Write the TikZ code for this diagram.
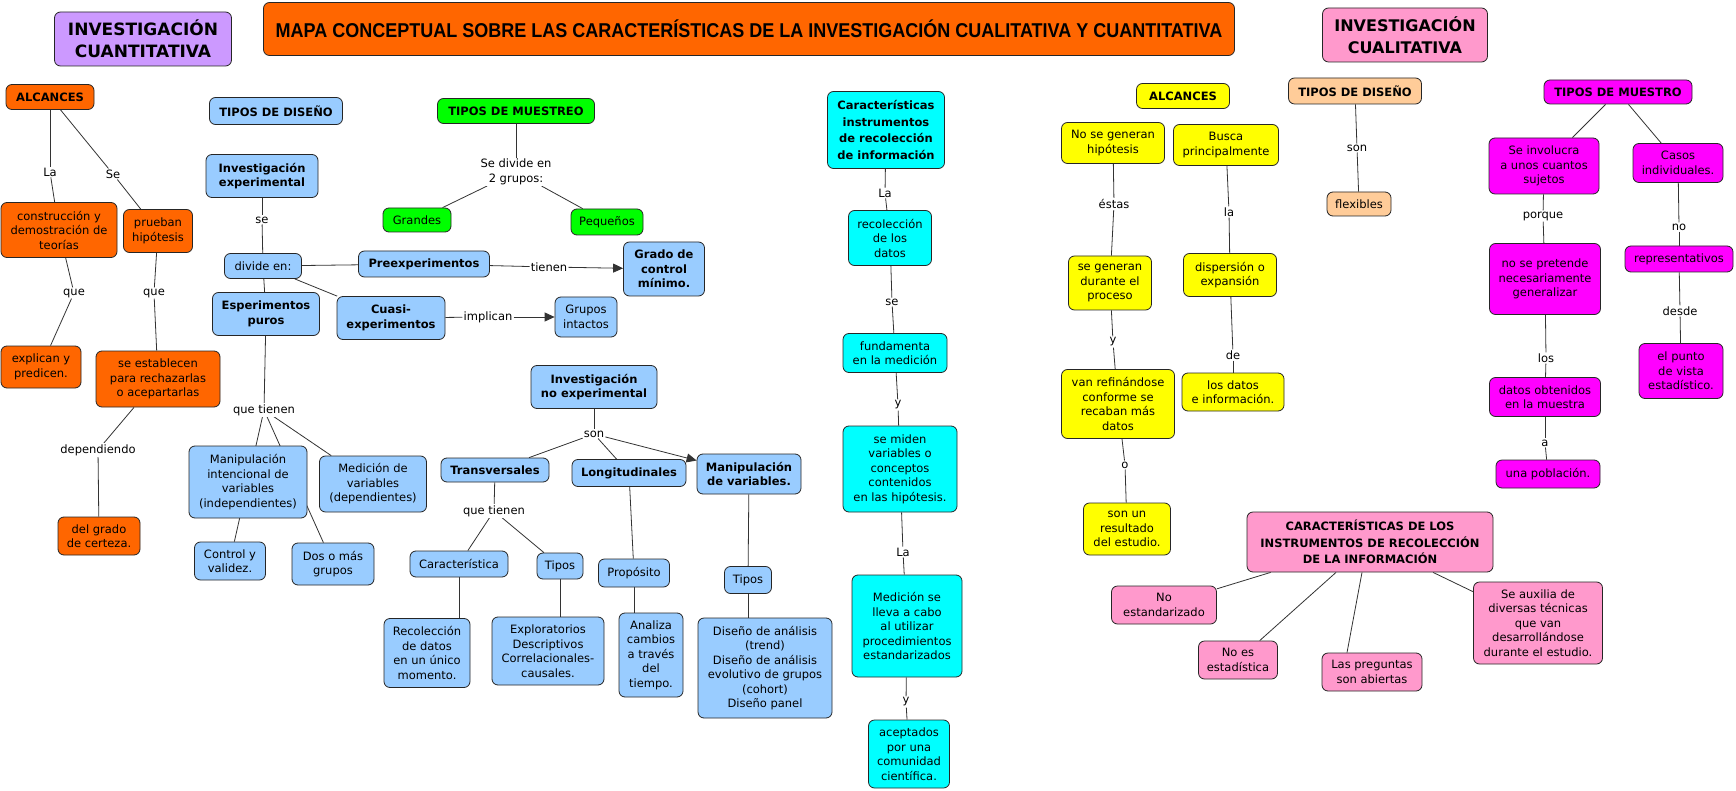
\documentclass[tikz,border=0pt]{standalone}
\usepackage{fontspec}
\usepackage{xcolor}
\usepackage{tikz}
\usetikzlibrary{arrows.meta, backgrounds}
\setmainfont{DejaVu Sans}
\newfontfamily\titlefont[FakeStretch=0.9]{Liberation Sans}
\definecolor{cmOrange}{HTML}{FF6600}
\definecolor{cmBlue}{HTML}{99CCFF}
\definecolor{cmGreen}{HTML}{00FF00}
\definecolor{cmCyan}{HTML}{00FFFF}
\definecolor{cmYellow}{HTML}{FFFF00}
\definecolor{cmPeach}{HTML}{FFCC99}
\definecolor{cmMagenta}{HTML}{FF00FF}
\definecolor{cmPink}{HTML}{FF99CC}
\definecolor{cmLilac}{HTML}{CC99FF}
\newcommand{\txtnorm}{\fontsize{11.5}{14.5}\selectfont}
\newcommand{\txthead}{\fontsize{11.5}{16.5}\selectfont\bfseries}
\newcommand{\txtbig}{\fontsize{17}{22}\selectfont\bfseries}

\begin{document}
\begin{tikzpicture}[x=1pt, y=-1pt,
  box/.style={draw=black!85, line width=0.8pt, rounded corners=6pt, align=center, inner sep=1pt, font=\txtnorm},
  headbox/.style={box, font=\txthead},
  boldbox/.style={box, font=\txtnorm\bfseries},
  linkword/.style={fill=white, inner sep=1pt, align=center, font=\txtnorm},
  link/.style={draw=black!80, line width=0.8pt},
  linkarrow/.style={link, -{Triangle[length=10pt, width=9pt]}}]
\useasboundingbox (0,0) rectangle (1736,791);
% Titles
\node[box, fill=cmLilac, font=\txtbig, minimum width=177, minimum height=54] (cuanti) at (143,39) {INVESTIGACIÓN\\CUANTITATIVA};
\node[box, fill=cmOrange, font=\titlefont\fontsize{20}{24}\selectfont\bfseries, minimum width=971, minimum height=53] (titulo) at (749,29) {MAPA CONCEPTUAL SOBRE LAS CARACTERÍSTICAS DE LA INVESTIGACIÓN CUALITATIVA Y CUANTITATIVA};
\node[box, fill=cmPink, font=\fontsize{16}{22}\selectfont\bfseries, minimum width=165, minimum height=54] (cuali) at (1405,35) {INVESTIGACIÓN\\CUALITATIVA};
% Cuantitativa: alcances
\node[headbox, fill=cmOrange, minimum width=88, minimum height=25] (alcQ) at (50,97) {ALCANCES};
\node[linkword] (lblLaA) at (50,172) {La};
\node[linkword] (lblSeA) at (113,174) {Se};
\node[box, fill=cmOrange, minimum width=116, minimum height=55] (teorias) at (59,230) {construcción y\\demostración de\\teorías};
\node[box, fill=cmOrange, minimum width=69, minimum height=43] (hipo) at (158,231) {prueban\\hipótesis};
\node[linkword] (lblQueA) at (74,293) {que};
\node[linkword] (lblQueB) at (154,293) {que};
\node[box, fill=cmOrange, minimum width=80, minimum height=42] (explican) at (41,367) {explican y\\predicen.};
\node[box, fill=cmOrange, minimum width=124, minimum height=56] (establecen) at (158,379) {se establecen\\para rechazarlas\\o acepartarlas};
\node[linkword] (lblDep) at (98,450) {dependiendo};
\node[box, fill=cmOrange, minimum width=82, minimum height=38] (certeza) at (99,536) {del grado\\de certeza.};
% Cuantitativa: tipos de diseño
\node[headbox, fill=cmBlue, minimum width=133, minimum height=27] (disenoQ) at (276,111) {TIPOS DE DISEÑO};
\node[boldbox, fill=cmBlue, minimum width=112, minimum height=43] (invExp) at (262,176) {Investigación\\experimental};
\node[linkword] (lblSeB) at (262,220) {se};
\node[box, fill=cmBlue, minimum width=77, minimum height=25] (divide) at (263,266) {divide en:};
\node[boldbox, fill=cmBlue, minimum width=131, minimum height=26] (preexp) at (424,264) {Preexperimentos};
\node[linkword] (lblTienen) at (549,267) {tienen};
\node[boldbox, fill=cmBlue, minimum width=81, minimum height=54] (gradoCtrl) at (664,269) {Grado de\\control\\mínimo.};
\node[boldbox, fill=cmBlue, minimum width=107, minimum height=43] (puros) at (266,314) {Esperimentos\\puros};
\node[boldbox, fill=cmBlue, minimum width=108, minimum height=43] (cuasi) at (391,318) {Cuasi-\\experimentos};
\node[linkword] (lblImplican) at (488,317) {implican};
\node[box, fill=cmBlue, minimum width=62, minimum height=40] (intactos) at (586,317) {Grupos\\intactos};
\node[linkword] (lblQueTienenA) at (264,410) {que tienen};
\node[box, fill=cmBlue, minimum width=118, minimum height=72] (manipInt) at (248,482) {Manipulación\\intencional de\\variables\\(independientes)};
\node[box, fill=cmBlue, minimum width=107, minimum height=56] (medicion) at (373,484) {Medición de\\variables\\(dependientes)};
\node[box, fill=cmBlue, minimum width=71, minimum height=38] (control) at (230,561) {Control y\\validez.};
\node[box, fill=cmBlue, minimum width=82, minimum height=42] (dosGrupos) at (333,564) {Dos o más\\grupos};
\node[boldbox, fill=cmBlue, minimum width=126, minimum height=43] (invNoExp) at (594,387) {Investigación\\no experimental};
\node[linkword] (lblSonA) at (594,434) {son};
\node[boldbox, fill=cmBlue, minimum width=108, minimum height=24] (transv) at (495,470) {Transversales};
\node[boldbox, fill=cmBlue, minimum width=114, minimum height=27] (longit) at (629,473) {Longitudinales};
\node[boldbox, fill=cmBlue, minimum width=104, minimum height=40] (manipVar) at (749,474) {Manipulación\\de variables.};
\node[linkword] (lblQueTienenB) at (494,511) {que tienen};
\node[box, fill=cmBlue, minimum width=98, minimum height=26] (caract) at (459,564) {Característica};
\node[box, fill=cmBlue, minimum width=46, minimum height=26] (tiposA) at (560,566) {Tipos};
\node[box, fill=cmBlue, minimum width=71, minimum height=28] (proposito) at (634,573) {Propósito};
\node[box, fill=cmBlue, minimum width=47, minimum height=27] (tiposB) at (748,580) {Tipos};
\node[box, fill=cmBlue, minimum width=86, minimum height=69] (unico) at (427,653) {Recolección\\de datos\\en un único\\momento.};
\node[box, fill=cmBlue, minimum width=112, minimum height=68] (explor) at (548,651) {Exploratorios\\Descriptivos\\Correlacionales-\\causales.};
\node[box, fill=cmBlue, minimum width=64, minimum height=84] (analiza) at (651,655) {Analiza\\cambios\\a través\\del\\tiempo.};
\node[box, fill=cmBlue, minimum width=134, minimum height=100] (disenoTipos) at (765,668) {Diseño de análisis\\(trend)\\Diseño de análisis\\evolutivo de grupos\\(cohort)\\Diseño panel};
% Cuantitativa: muestreo
\node[headbox, fill=cmGreen, minimum width=157, minimum height=25] (muestreoQ) at (516,111) {TIPOS DE MUESTREO};
\node[linkword] (lblDivide) at (516,172) {Se divide en\\2 grupos:};
\node[box, fill=cmGreen, minimum width=68, minimum height=24] (grandes) at (417,220) {Grandes};
\node[box, fill=cmGreen, minimum width=72, minimum height=26] (pequenos) at (607,222) {Pequeños};
% Cuantitativa: instrumentos
\node[headbox, fill=cmCyan, minimum width=117, minimum height=77] (instQ) at (886,130) {Características\\instrumentos\\de recolección\\de información};
\node[linkword] (lblLaB) at (885,193) {La};
\node[box, fill=cmCyan, minimum width=83, minimum height=55] (recol) at (890,238) {recolección\\de los\\datos};
\node[linkword] (lblSeC) at (892,302) {se};
\node[box, fill=cmCyan, minimum width=104, minimum height=39] (fundamenta) at (895,353) {fundamenta\\en la medición};
\node[linkword] (lblYA) at (898,405) {y};
\node[box, fill=cmCyan, minimum width=114, minimum height=86] (miden) at (900,469) {se miden\\variables o\\conceptos\\contenidos\\en las hipótesis.};
\node[linkword] (lblLaC) at (903,552) {La};
\node[box, fill=cmCyan, minimum width=110, minimum height=102] (medida) at (907,626) {Medición se\\lleva a cabo\\al utilizar\\procedimientos\\estandarizados};
\node[linkword] (lblYB) at (906,702) {y};
\node[box, fill=cmCyan, minimum width=81, minimum height=68] (aceptados) at (909,754) {aceptados\\por una\\comunidad\\científica.};
% Cualitativa: alcances
\node[headbox, fill=cmYellow, minimum width=93, minimum height=25] (alcC) at (1183,96) {ALCANCES};
\node[box, fill=cmYellow, minimum width=103, minimum height=41] (noGeneran) at (1113,143) {No se generan\\hipótesis};
\node[box, fill=cmYellow, minimum width=105, minimum height=41] (busca) at (1226,145) {Busca\\principalmente};
\node[linkword] (lblEstas) at (1114,204) {éstas};
\node[linkword] (lblLaD) at (1229,212) {la};
\node[box, fill=cmYellow, minimum width=83, minimum height=54] (seGeneran) at (1110,283) {se generan\\durante el\\proceso};
\node[box, fill=cmYellow, minimum width=93, minimum height=43] (dispersion) at (1230,275) {dispersión o\\expansión};
\node[linkword] (lblYC) at (1113,342) {y};
\node[linkword] (lblDe) at (1233,355) {de};
\node[box, fill=cmYellow, minimum width=113, minimum height=69] (refinan) at (1118,404) {van refinándose\\conforme se\\recaban más\\datos};
\node[box, fill=cmYellow, minimum width=102, minimum height=38] (losDatos) at (1233,392) {los datos\\e información.};
\node[linkword] (lblO) at (1125,465) {o};
\node[box, fill=cmYellow, minimum width=87, minimum height=52] (resultado) at (1127,529) {son un\\resultado\\del estudio.};
% Cualitativa: diseño
\node[headbox, fill=cmPeach, minimum width=133, minimum height=26] (disenoC) at (1355,91) {TIPOS DE DISEÑO};
\node[linkword] (lblSonB) at (1357,148) {son};
\node[box, fill=cmPeach, minimum width=64, minimum height=24] (flexibles) at (1359,204) {flexibles};
% Cualitativa: muestra
\node[headbox, fill=cmMagenta, minimum width=148, minimum height=24] (muestraC) at (1618,92) {TIPOS DE MUESTRO};
\node[box, fill=cmMagenta, minimum width=110, minimum height=56] (sujetos) at (1544,166) {Se involucra\\a unos cuantos\\sujetos};
\node[box, fill=cmMagenta, minimum width=90, minimum height=39] (casos) at (1678,163) {Casos\\individuales.};
\node[linkword] (lblPorque) at (1543,216) {porque};
\node[linkword] (lblNo) at (1679,227) {no};
\node[box, fill=cmMagenta, minimum width=111, minimum height=71] (generalizar) at (1545,279) {no se pretende\\necesariamente\\generalizar};
\node[box, fill=cmMagenta, minimum width=108, minimum height=26] (represent) at (1679,259) {representativos};
\node[linkword] (lblDesde) at (1680,311) {desde};
\node[box, fill=cmMagenta, minimum width=84, minimum height=55] (punto) at (1681,371) {el punto\\de vista\\estadístico.};
\node[linkword] (lblLos) at (1546,358) {los};
\node[box, fill=cmMagenta, minimum width=111, minimum height=39] (obtenidos) at (1545,397) {datos obtenidos\\en la muestra};
\node[linkword] (lblA) at (1545,443) {a};
\node[box, fill=cmMagenta, minimum width=104, minimum height=28] (poblacion) at (1548,474) {una población.};
% Cualitativa: instrumentos
\node[headbox, fill=cmPink, minimum width=246, minimum height=60] (instC) at (1370,542) {CARACTERÍSTICAS DE LOS\\INSTRUMENTOS DE RECOLECCIÓN\\DE LA INFORMACIÓN};
\node[box, fill=cmPink, minimum width=105, minimum height=38] (noEstand) at (1164,605) {No\\estandarizado};
\node[box, fill=cmPink, minimum width=79, minimum height=38] (noEstad) at (1238,660) {No es\\estadística};
\node[box, fill=cmPink, minimum width=100, minimum height=38] (preguntas) at (1372,672) {Las preguntas\\son abiertas};
\node[box, fill=cmPink, minimum width=129, minimum height=82] (auxilia) at (1538,623) {Se auxilia de\\diversas técnicas\\que van\\desarrollándose\\durante el estudio.};
% Links
\begin{scope}[on background layer]
\fill[white] (0,0) rectangle (1736,791);
\foreach \a/\b in {alcQ/lblLaA, lblLaA/teorias, alcQ/lblSeA, lblSeA/hipo, teorias/lblQueA, lblQueA/explican,
  hipo/lblQueB, lblQueB/establecen, establecen/lblDep, lblDep/certeza,
  invExp/lblSeB, lblSeB/divide, divide/preexp, divide/puros, divide/cuasi, preexp/lblTienen, cuasi/lblImplican,
  puros/lblQueTienenA, lblQueTienenA/control, lblQueTienenA/dosGrupos, lblQueTienenA/medicion,
  invNoExp/lblSonA, lblSonA/transv, lblSonA/longit, transv/lblQueTienenB, lblQueTienenB/caract, lblQueTienenB/tiposA,
  longit/proposito, manipVar/tiposB,
  muestreoQ/lblDivide, lblDivide/grandes, lblDivide/pequenos,
  instQ/lblLaB, lblLaB/recol, recol/lblSeC, lblSeC/fundamenta, fundamenta/lblYA, lblYA/miden,
  miden/lblLaC, lblLaC/medida, medida/lblYB, lblYB/aceptados,
  noGeneran/lblEstas, lblEstas/seGeneran, seGeneran/lblYC, lblYC/refinan, refinan/lblO, lblO/resultado,
  busca/lblLaD, lblLaD/dispersion, dispersion/lblDe, lblDe/losDatos, disenoC/lblSonB, lblSonB/flexibles,
  muestraC/sujetos, muestraC/casos, sujetos/lblPorque, lblPorque/generalizar, generalizar/lblLos, lblLos/obtenidos,
  obtenidos/lblA, lblA/poblacion, casos/lblNo, lblNo/represent, represent/lblDesde, lblDesde/punto,
  instC/noEstand, instC/noEstad, instC/auxilia}
  \draw[link] (\a) -- (\b);
% straight drops to the boxes below
\foreach \a/\b in {caract/unico, tiposA/explor, proposito/analiza, tiposB/disenoTipos}
  \draw[link] (\a) -- (\a |- \b.north);
\draw[link] ([xshift=-8pt]instC.south) -- ([xshift=-25pt]preguntas.north);
\draw[linkarrow] (lblTienen) -- (gradoCtrl);
\draw[linkarrow] (lblImplican) -- (intactos);
\draw[linkarrow] (lblSonA) -- (manipVar);
\end{scope}
\end{tikzpicture}
\end{document}
